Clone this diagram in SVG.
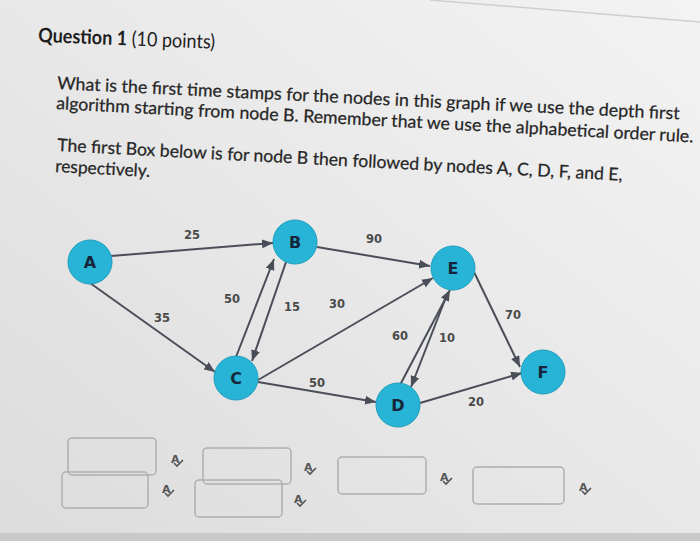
<svg xmlns="http://www.w3.org/2000/svg" width="700" height="541" viewBox="0 0 700 541">
<defs>
<linearGradient id="bg" x1="0" y1="1" x2="1" y2="0">
<stop offset="0" stop-color="#dcdcdc"/>
<stop offset="0.5" stop-color="#e8e8e8"/>
<stop offset="1" stop-color="#f3f3f3"/>
</linearGradient>
<marker id="ah" markerUnits="userSpaceOnUse" markerWidth="11" markerHeight="9" refX="11" refY="4.5" orient="auto">
<path d="M0,0 L11,4.5 L0,9 z" fill="#4a4e58"/>
</marker>
<style>
.q{font-family:Lato,"Open Sans","Liberation Sans",sans-serif;font-size:17.5px;fill:#262626;stroke:#262626;stroke-width:0.25}
.t{font-family:Lato,"Open Sans","Liberation Sans",sans-serif;font-size:20px;fill:#1e1e1e}
.e{stroke:#4a4e58;stroke-width:2;fill:none;marker-end:url(#ah)}
.w{font-family:"DejaVu Sans","Liberation Sans",sans-serif;font-weight:bold;font-size:11.5px;fill:#4a4a4a;text-anchor:middle}
.n circle{fill:#27b4d6;stroke:#1c9dbd;stroke-width:1}
.n text{font-family:"DejaVu Sans","Liberation Sans",sans-serif;font-weight:bold;font-size:16px;fill:#17263a;text-anchor:middle}
.box{fill:none;stroke:#afafaf;stroke-width:1.5}
.ic text{font-family:"DejaVu Sans","Liberation Sans",sans-serif;font-weight:bold;font-size:11px;fill:#555}
.ic path{stroke:#555;stroke-width:1.6;fill:none}
</style>
</defs>
<rect width="700" height="541" fill="url(#bg)"/>
<path d="M430,0 L700,22" stroke="#cfcfcf" stroke-width="1.5"/>
<rect x="0" y="533" width="700" height="8" fill="#c9c9c9"/>

<g id="question">
<text class="t" x="38" y="42" transform="rotate(2.2 38 42)" textLength="177" lengthAdjust="spacingAndGlyphs"><tspan font-weight="bold">Question 1</tspan> (10 points)</text>
<text class="q" x="57" y="89" transform="rotate(2.8 57 89)" textLength="623" lengthAdjust="spacingAndGlyphs">What is the first time stamps for the nodes in this graph if we use the depth first</text>
<text class="q" x="56" y="109" transform="rotate(3 56 109)" textLength="638" lengthAdjust="spacingAndGlyphs">algorithm starting from node B. Remember that we use the alphabetical order rule.</text>
<text class="q" x="57" y="151" transform="rotate(3 57 151)" textLength="566" lengthAdjust="spacingAndGlyphs">The first Box below is for node B then followed by nodes A, C, D, F, and E,</text>
<text class="q" x="55" y="172" transform="rotate(3 55 172)" textLength="95" lengthAdjust="spacingAndGlyphs">respectively.</text>
</g>

<g id="connectors">
<line class="e" x1="111" y1="256" x2="273" y2="243"/>
<line class="e" x1="90" y1="283" x2="215" y2="372"/>
<line class="e" x1="236" y1="357" x2="274" y2="259"/>
<line class="e" x1="286" y1="262" x2="252" y2="361"/>
<line class="e" x1="317" y1="247" x2="430" y2="266"/>
<line class="e" x1="258" y1="380" x2="433" y2="278"/>
<line class="e" x1="258" y1="382" x2="376" y2="402"/>
<line class="e" x1="400" y1="385" x2="450" y2="290"/>
<line class="e" x1="448" y1="292" x2="411" y2="387"/>
<line class="e" x1="420" y1="403" x2="522" y2="373"/>
<line class="e" x1="474" y1="272" x2="520" y2="367"/>
<text class="w" x="192" y="239">25</text>
<text class="w" x="162" y="322">35</text>
<text class="w" x="232" y="303">50</text>
<text class="w" x="292" y="311">15</text>
<text class="w" x="337" y="308">30</text>
<text class="w" x="374" y="243">90</text>
<text class="w" x="317" y="387">50</text>
<text class="w" x="400" y="340">60</text>
<text class="w" x="447" y="342">10</text>
<text class="w" x="513" y="319">70</text>
<text class="w" x="476" y="406">20</text>
</g>

<g id="node-A" class="n"><circle cx="90" cy="262" r="22"/><text x="90" y="268">A</text></g>
<g id="node-B" class="n"><circle cx="295" cy="242" r="22"/><text x="295" y="248">B</text></g>
<g id="node-C" class="n"><circle cx="236" cy="378" r="22"/><text x="236" y="384">C</text></g>
<g id="node-D" class="n"><circle cx="398" cy="405" r="22"/><text x="398" y="411">D</text></g>
<g id="node-E" class="n"><circle cx="453" cy="268" r="22"/><text x="453" y="274">E</text></g>
<g id="node-F" class="n"><circle cx="543" cy="372" r="22"/><text x="543" y="378">F</text></g>

<g id="answers">
<rect class="box" x="68" y="438" width="88" height="37" rx="4"/>
<rect class="box" x="62" y="472" width="86" height="36" rx="4"/>
<rect class="box" x="203" y="448" width="88" height="36" rx="4"/>
<rect class="box" x="195" y="480" width="87" height="37" rx="4"/>
<rect class="box" x="338" y="457" width="88" height="37" rx="4"/>
<rect class="box" x="473" y="467" width="91" height="37" rx="4"/>
<g class="ic"><text x="171" y="463">A</text><path d="M174,463 l3,3 l6,-6"/></g>
<g class="ic"><text x="162" y="493">A</text><path d="M165,493 l3,3 l6,-6"/></g>
<g class="ic"><text x="304" y="471">A</text><path d="M307,471 l3,3 l6,-6"/></g>
<g class="ic"><text x="294" y="503">A</text><path d="M297,503 l3,3 l6,-6"/></g>
<g class="ic"><text x="440" y="481">A</text><path d="M443,481 l3,3 l6,-6"/></g>
<g class="ic"><text x="579" y="491">A</text><path d="M582,491 l3,3 l6,-6"/></g>
</g>
</svg>
